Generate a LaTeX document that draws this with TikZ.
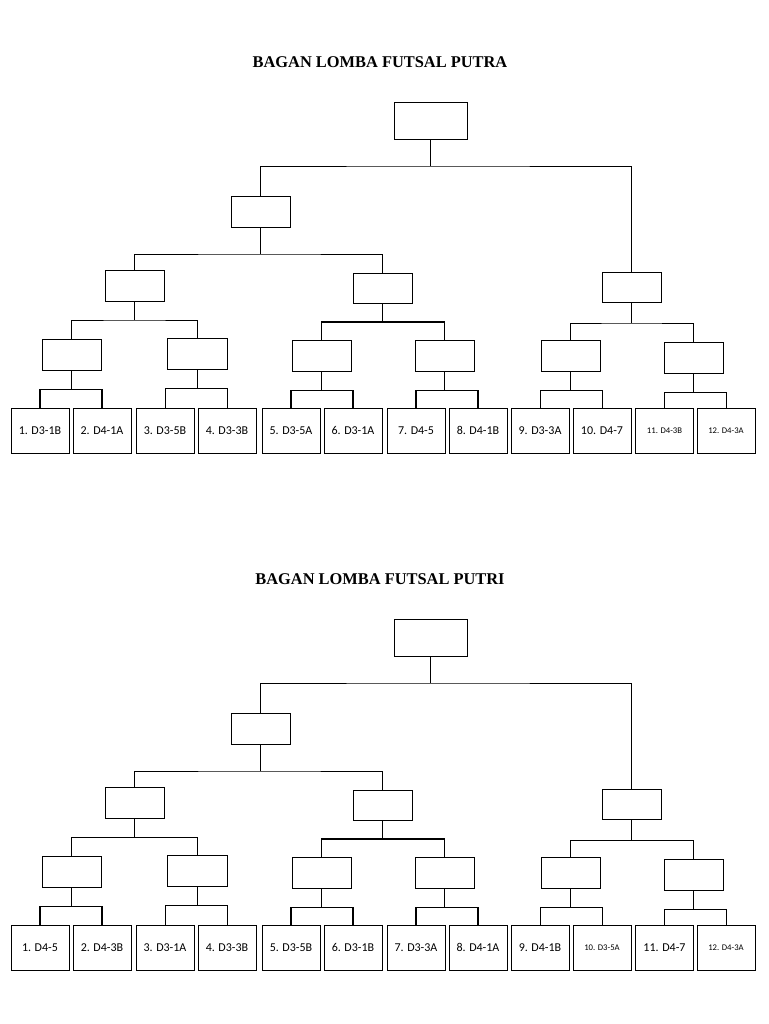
\documentclass[tikz,border=0pt]{standalone}
\usepackage{fontspec}
\usetikzlibrary{calc}
\setmainfont{Liberation Serif}
\newfontfamily\leaffont{Carlito}
\begin{document}
\begin{tikzpicture}[x=0.75pt,y=-0.75pt,
  ln/.style={line width=0.6pt},
  tk/.style={line width=1.3pt},
  box/.style={draw,line width=0.6pt,inner sep=0pt,font=\leaffont\fontsize{9}{10}\selectfont}]
\useasboundingbox (0,0) rectangle (768,1024);
\newcommand\smf{\fontsize{6.5}{7}\selectfont}
\newcommand\setl[2]{\expandafter\def\csname lbll#1\endcsname{#2}}
\newcommand\bx[5]{\node[box,minimum width=#4*0.75pt,minimum height=#5*0.75pt] (#1) at (#2,#3) {};}
\newcommand\tree[2]{% #1 yshift, #2 title
\begin{scope}[yshift=-#1*0.75pt]
\node[font=\bfseries\fontsize{12.3}{13}\selectfont] (t) at (380,62) {#2};
\bx{r}{430.5}{120.5}{73}{37}
\bx{L}{260.5}{211.5}{59}{31}
\bx{R}{631.5}{287}{59}{30}
\bx{A}{134.5}{285.5}{59}{31}
\bx{B}{382.5}{288}{59}{30}
\bx{a1}{71.5}{354.5}{59}{31}
\bx{a2}{197}{353.5}{60}{31}
\bx{b1}{321.5}{355.5}{59}{31}
\bx{b2}{444.5}{355.5}{59}{31}
\bx{c1}{570.5}{355.5}{59}{31}
\bx{c2}{693.5}{357.5}{59}{31}
\foreach \n/\x in {1/40,2/102,3/165,4/227,5/291,6/353,7/416,8/478,9/540,10/602,11/664.5,12/726}{
  \node[box,minimum width=58*0.75pt,minimum height=45*0.75pt] (l\n) at (\x,430.5) {\csname lbll\n\endcsname};}
\coordinate (j0) at (430.5,166);
\draw[ln] (r.south) -- (j0);
\draw[ln] (L.north) |- (j0) -| (R.north);
\coordinate (j1) at (260.5,254);
\draw[tk] (L.south) -- (j1);
\draw[ln] (A.north) |- (j1) -| (B.north);
\coordinate (j2) at (134.5,320);
\draw[ln] (A.south) -- (j2);
\draw[ln] (a1.north) |- (j2) -| (a2.north);
\coordinate (j3) at (382.5,322);
\draw[ln] (B.south) -- (j3);
\draw[tk] (b1.north) |- (j3) -| (b2.north);
\coordinate (j4) at (631.5,323);
\draw[ln] (R.south) -- (j4);
\draw[ln] (c1.north) |- (j4) -| (c2.north);
\foreach \p/\u/\v/\s in {a1/1/2/tk,a2/3/4/ln,b1/5/6/tk,b2/7/8/tk,c1/9/10/ln,c2/11/12/ln}{
  \coordinate (k\p) at ($(\p.south)+(0,19)$);
  \draw[ln] (\p.south) -- (k\p);
  \draw[\s] (l\u.north) |- (k\p) -| (l\v.north);
}
\end{scope}}
\setl{1}{1. D3-1B}\setl{2}{2. D4-1A}\setl{3}{3. D3-5B}\setl{4}{4. D3-3B}
\setl{5}{5. D3-5A}\setl{6}{6. D3-1A}\setl{7}{7. D4-5}\setl{8}{8. D4-1B}
\setl{9}{9. D3-3A}\setl{10}{10. D4-7}\setl{11}{\smf 11. D4-3B}\setl{12}{\smf 12. D4-3A}
\tree{0}{BAGAN LOMBA FUTSAL PUTRA}
\setl{1}{1. D4-5}\setl{2}{2. D4-3B}\setl{3}{3. D3-1A}\setl{4}{4. D3-3B}
\setl{5}{5. D3-5B}\setl{6}{6. D3-1B}\setl{7}{7. D3-3A}\setl{8}{8. D4-1A}
\setl{9}{9. D4-1B}\setl{10}{\smf 10. D3-5A}\setl{11}{11. D4-7}\setl{12}{\smf 12. D4-3A}
\tree{517}{BAGAN LOMBA FUTSAL PUTRI}
\end{tikzpicture}
\end{document}
